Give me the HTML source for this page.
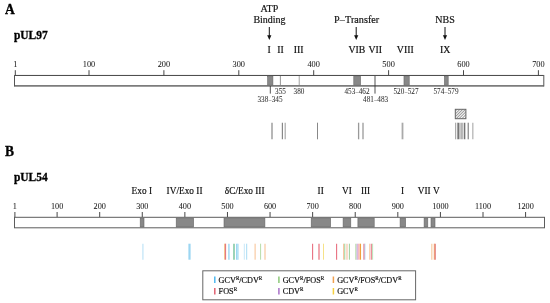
<!DOCTYPE html>
<html><head><meta charset="utf-8"><title>pUL97 and pUL54 mutation map</title>
<style>html,body{margin:0;padding:0;background:#fff;}body{width:550px;height:303px;overflow:hidden;}svg{display:block;filter:blur(0.3px);}</style>
</head><body>
<svg width="550" height="303" viewBox="0 0 550 303">
<rect width="550" height="303" fill="#fff"/>
<defs><pattern id="hatch" patternUnits="userSpaceOnUse" width="2" height="2" patternTransform="rotate(45)"><rect width="2" height="2" fill="#fff"/><rect width="1" height="2" fill="#999"/></pattern>
</defs>
<g font-family='"Liberation Serif", "DejaVu Serif", serif'>
<text transform="translate(4.9,14.1) scale(1,1.12)" font-size="13.5" font-weight="bold" fill="#000" stroke="#000" stroke-width="0.3">A</text>
<text transform="translate(13.9,39.3) scale(1,1.1)" font-size="11.5" font-weight="bold" fill="#000" stroke="#000" stroke-width="0.3">pUL97</text>
<text x="269.40" y="12.00" font-size="10" text-anchor="middle" font-weight="normal" fill="#111" stroke="#111" stroke-width="0.18" >ATP</text>
<text x="269.50" y="22.90" font-size="10" text-anchor="middle" font-weight="normal" fill="#111" stroke="#111" stroke-width="0.18" >Binding</text>
<text x="356.60" y="23.20" font-size="10.2" text-anchor="middle" font-weight="normal" fill="#111" stroke="#111" stroke-width="0.18" >P<tspan dx="0.2">&#8211;</tspan><tspan dx="0.2">Transfer</tspan></text>
<text x="445.00" y="23.20" font-size="10" text-anchor="middle" font-weight="normal" fill="#111" stroke="#111" stroke-width="0.18" >NBS</text>
<line x1="269.30" y1="27.00" x2="269.30" y2="36.00" stroke="#111" stroke-width="1.0"/>
<path d="M267.20,35.20 L271.40,35.20 L269.30,40.00 Z" fill="#111"/>
<line x1="356.20" y1="27.00" x2="356.20" y2="36.00" stroke="#111" stroke-width="1.0"/>
<path d="M354.10,35.20 L358.30,35.20 L356.20,40.00 Z" fill="#111"/>
<line x1="445.00" y1="27.00" x2="445.00" y2="36.00" stroke="#111" stroke-width="1.0"/>
<path d="M442.90,35.20 L447.10,35.20 L445.00,40.00 Z" fill="#111"/>
<text x="269.20" y="53.00" font-size="9.8" text-anchor="middle" font-weight="normal" fill="#111" stroke="#111" stroke-width="0.18" >I</text>
<text x="280.40" y="53.00" font-size="9.8" text-anchor="middle" font-weight="normal" fill="#111" stroke="#111" stroke-width="0.18" >II</text>
<text x="298.70" y="53.00" font-size="9.8" text-anchor="middle" font-weight="normal" fill="#111" stroke="#111" stroke-width="0.18" >III</text>
<text x="356.90" y="53.00" font-size="9.8" text-anchor="middle" font-weight="normal" fill="#111" stroke="#111" stroke-width="0.18" >VIB</text>
<text x="375.20" y="53.00" font-size="9.8" text-anchor="middle" font-weight="normal" fill="#111" stroke="#111" stroke-width="0.18" >VII</text>
<text x="405.30" y="53.00" font-size="9.8" text-anchor="middle" font-weight="normal" fill="#111" stroke="#111" stroke-width="0.18" >VIII</text>
<text x="445.10" y="53.00" font-size="9.8" text-anchor="middle" font-weight="normal" fill="#111" stroke="#111" stroke-width="0.18" >IX</text>
<line x1="15.30" y1="70.20" x2="15.30" y2="75.50" stroke="#484848" stroke-width="1.0"/>
<text x="15.30" y="67.30" font-size="8.3" text-anchor="middle" font-weight="normal" fill="#1a1a1a" stroke="#1a1a1a" stroke-width="0.05" >1</text>
<line x1="89.00" y1="70.20" x2="89.00" y2="75.50" stroke="#484848" stroke-width="1.0"/>
<text x="89.00" y="67.30" font-size="8.3" text-anchor="middle" font-weight="normal" fill="#1a1a1a" stroke="#1a1a1a" stroke-width="0.05" >100</text>
<line x1="163.90" y1="70.20" x2="163.90" y2="75.50" stroke="#484848" stroke-width="1.0"/>
<text x="163.90" y="67.30" font-size="8.3" text-anchor="middle" font-weight="normal" fill="#1a1a1a" stroke="#1a1a1a" stroke-width="0.05" >200</text>
<line x1="238.80" y1="70.20" x2="238.80" y2="75.50" stroke="#484848" stroke-width="1.0"/>
<text x="238.80" y="67.30" font-size="8.3" text-anchor="middle" font-weight="normal" fill="#1a1a1a" stroke="#1a1a1a" stroke-width="0.05" >300</text>
<line x1="313.70" y1="70.20" x2="313.70" y2="75.50" stroke="#484848" stroke-width="1.0"/>
<text x="313.70" y="67.30" font-size="8.3" text-anchor="middle" font-weight="normal" fill="#1a1a1a" stroke="#1a1a1a" stroke-width="0.05" >400</text>
<line x1="388.60" y1="70.20" x2="388.60" y2="75.50" stroke="#484848" stroke-width="1.0"/>
<text x="388.60" y="67.30" font-size="8.3" text-anchor="middle" font-weight="normal" fill="#1a1a1a" stroke="#1a1a1a" stroke-width="0.05" >500</text>
<line x1="463.50" y1="70.20" x2="463.50" y2="75.50" stroke="#484848" stroke-width="1.0"/>
<text x="463.50" y="67.30" font-size="8.3" text-anchor="middle" font-weight="normal" fill="#1a1a1a" stroke="#1a1a1a" stroke-width="0.05" >600</text>
<line x1="538.40" y1="70.20" x2="538.40" y2="75.50" stroke="#484848" stroke-width="1.0"/>
<text x="538.40" y="67.30" font-size="8.3" text-anchor="middle" font-weight="normal" fill="#1a1a1a" stroke="#1a1a1a" stroke-width="0.05" >700</text>
<line x1="14.50" y1="75.45" x2="543.80" y2="75.45" stroke="#444" stroke-width="1.0"/>
<line x1="14.50" y1="85.85" x2="543.80" y2="85.85" stroke="#7c7c7c" stroke-width="1.8"/>
<line x1="14.50" y1="75.00" x2="14.50" y2="86.50" stroke="#555" stroke-width="1.0"/>
<line x1="543.80" y1="75.00" x2="543.80" y2="86.50" stroke="#555" stroke-width="1.0"/>
<line x1="280.39" y1="76.00" x2="280.39" y2="85.20" stroke="#888" stroke-width="0.9"/>
<line x1="299.22" y1="76.00" x2="299.22" y2="85.20" stroke="#999" stroke-width="0.9"/>
<rect x="267.66" y="76.20" width="5.24" height="9.00" fill="#888" stroke="#666" stroke-width="0.6"/>
<rect x="353.80" y="76.20" width="6.74" height="9.00" fill="#888" stroke="#666" stroke-width="0.6"/>
<rect x="403.98" y="76.20" width="5.24" height="9.00" fill="#888" stroke="#666" stroke-width="0.6"/>
<rect x="444.43" y="76.20" width="3.75" height="9.00" fill="#888" stroke="#666" stroke-width="0.6"/>
<line x1="375.00" y1="76.00" x2="375.00" y2="93.60" stroke="#333" stroke-width="0.85"/>
<line x1="270.30" y1="86.00" x2="270.30" y2="93.60" stroke="#333" stroke-width="0.85"/>
<text x="280.50" y="93.80" font-size="7.2" text-anchor="middle" font-weight="normal" fill="#333" stroke="#333" stroke-width="0.06" >355</text>
<text x="299.00" y="93.80" font-size="7.2" text-anchor="middle" font-weight="normal" fill="#333" stroke="#333" stroke-width="0.06" >380</text>
<text x="357.00" y="94.00" font-size="7.2" text-anchor="middle" font-weight="normal" fill="#333" stroke="#333" stroke-width="0.06" >453<tspan font-size="5.4" dx="0.4" dy="-0.4">&#8211;</tspan><tspan dx="0.4" dy="0.4">462</tspan></text>
<text x="406.00" y="94.00" font-size="7.2" text-anchor="middle" font-weight="normal" fill="#333" stroke="#333" stroke-width="0.06" >520<tspan font-size="5.4" dx="0.4" dy="-0.4">&#8211;</tspan><tspan dx="0.4" dy="0.4">527</tspan></text>
<text x="446.00" y="94.00" font-size="7.2" text-anchor="middle" font-weight="normal" fill="#333" stroke="#333" stroke-width="0.06" >574<tspan font-size="5.4" dx="0.4" dy="-0.4">&#8211;</tspan><tspan dx="0.4" dy="0.4">579</tspan></text>
<text x="270.00" y="102.00" font-size="7.2" text-anchor="middle" font-weight="normal" fill="#333" stroke="#333" stroke-width="0.06" >338<tspan font-size="5.4" dx="0.4" dy="-0.4">&#8211;</tspan><tspan dx="0.4" dy="0.4">345</tspan></text>
<text x="375.60" y="102.00" font-size="7.2" text-anchor="middle" font-weight="normal" fill="#333" stroke="#333" stroke-width="0.06" >481<tspan font-size="5.4" dx="0.4" dy="-0.4">&#8211;</tspan><tspan dx="0.4" dy="0.4">483</tspan></text>
<line x1="272.00" y1="122.70" x2="272.00" y2="139.30" stroke="#999" stroke-width="1.4"/>
<line x1="282.40" y1="122.70" x2="282.40" y2="139.30" stroke="#888" stroke-width="1.2"/>
<line x1="285.20" y1="122.70" x2="285.20" y2="139.30" stroke="#aaa" stroke-width="1.2"/>
<line x1="317.50" y1="122.70" x2="317.50" y2="139.30" stroke="#888" stroke-width="1.0"/>
<line x1="358.60" y1="122.70" x2="358.60" y2="139.30" stroke="#999" stroke-width="1.3"/>
<line x1="363.00" y1="122.70" x2="363.00" y2="139.30" stroke="#9a9a9a" stroke-width="1.3"/>
<line x1="402.50" y1="122.70" x2="402.50" y2="139.30" stroke="#aaa" stroke-width="1.8"/>
<line x1="455.70" y1="122.70" x2="455.70" y2="139.30" stroke="#999" stroke-width="1.0"/>
<line x1="457.50" y1="122.70" x2="457.50" y2="139.30" stroke="#999" stroke-width="0.9"/>
<line x1="458.80" y1="122.70" x2="458.80" y2="139.30" stroke="#4a4a4a" stroke-width="1.1"/>
<line x1="461.10" y1="122.70" x2="461.10" y2="139.30" stroke="#8a8a8a" stroke-width="1.1"/>
<line x1="462.80" y1="122.70" x2="462.80" y2="139.30" stroke="#aaa" stroke-width="1.2"/>
<line x1="464.70" y1="122.70" x2="464.70" y2="139.30" stroke="#666" stroke-width="1.2"/>
<line x1="468.20" y1="122.70" x2="468.20" y2="139.30" stroke="#6a6a6a" stroke-width="1.0"/>
<line x1="472.80" y1="122.70" x2="472.80" y2="139.30" stroke="#bbb" stroke-width="1.4"/>
<rect x="455.30" y="109.30" width="10.60" height="9.40" fill="url(#hatch)" stroke="#666" stroke-width="1"/>
<text transform="translate(4.9,156.3) scale(1,1.12)" font-size="13.5" font-weight="bold" fill="#000" stroke="#000" stroke-width="0.3">B</text>
<text transform="translate(13.9,181.4) scale(1,1.08)" font-size="11.5" font-weight="bold" fill="#000" stroke="#000" stroke-width="0.3">pUL54</text>
<text x="141.80" y="194.30" font-size="9.3" text-anchor="middle" font-weight="normal" fill="#111" stroke="#111" stroke-width="0.18" >Exo I</text>
<text x="184.55" y="194.30" font-size="9.3" text-anchor="middle" font-weight="normal" fill="#111" stroke="#111" stroke-width="0.18" >IV/Exo II</text>
<text x="244.70" y="194.30" font-size="9.3" text-anchor="middle" font-weight="normal" fill="#111" stroke="#111" stroke-width="0.18" >&#948;C/Exo III</text>
<text x="320.70" y="194.30" font-size="9.3" text-anchor="middle" font-weight="normal" fill="#111" stroke="#111" stroke-width="0.18" >II</text>
<text x="346.95" y="194.30" font-size="9.3" text-anchor="middle" font-weight="normal" fill="#111" stroke="#111" stroke-width="0.18" >VI</text>
<text x="365.55" y="194.30" font-size="9.3" text-anchor="middle" font-weight="normal" fill="#111" stroke="#111" stroke-width="0.18" >III</text>
<text x="402.50" y="194.30" font-size="9.3" text-anchor="middle" font-weight="normal" fill="#111" stroke="#111" stroke-width="0.18" >I</text>
<text x="424.25" y="194.30" font-size="9.3" text-anchor="middle" font-weight="normal" fill="#111" stroke="#111" stroke-width="0.18" >VII</text>
<text x="436.35" y="194.30" font-size="9.3" text-anchor="middle" font-weight="normal" fill="#111" stroke="#111" stroke-width="0.18" >V</text>
<line x1="14.90" y1="212.00" x2="14.90" y2="217.30" stroke="#484848" stroke-width="1.0"/>
<text x="14.90" y="209.20" font-size="8.2" text-anchor="middle" font-weight="normal" fill="#1a1a1a" stroke="#1a1a1a" stroke-width="0.05" >1</text>
<line x1="57.10" y1="212.00" x2="57.10" y2="217.30" stroke="#484848" stroke-width="1.0"/>
<text x="57.10" y="209.20" font-size="8.2" text-anchor="middle" font-weight="normal" fill="#1a1a1a" stroke="#1a1a1a" stroke-width="0.05" >100</text>
<line x1="99.69" y1="212.00" x2="99.69" y2="217.30" stroke="#484848" stroke-width="1.0"/>
<text x="99.69" y="209.20" font-size="8.2" text-anchor="middle" font-weight="normal" fill="#1a1a1a" stroke="#1a1a1a" stroke-width="0.05" >200</text>
<line x1="142.28" y1="212.00" x2="142.28" y2="217.30" stroke="#484848" stroke-width="1.0"/>
<text x="142.28" y="209.20" font-size="8.2" text-anchor="middle" font-weight="normal" fill="#1a1a1a" stroke="#1a1a1a" stroke-width="0.05" >300</text>
<line x1="184.87" y1="212.00" x2="184.87" y2="217.30" stroke="#484848" stroke-width="1.0"/>
<text x="184.87" y="209.20" font-size="8.2" text-anchor="middle" font-weight="normal" fill="#1a1a1a" stroke="#1a1a1a" stroke-width="0.05" >400</text>
<line x1="227.46" y1="212.00" x2="227.46" y2="217.30" stroke="#484848" stroke-width="1.0"/>
<text x="227.46" y="209.20" font-size="8.2" text-anchor="middle" font-weight="normal" fill="#1a1a1a" stroke="#1a1a1a" stroke-width="0.05" >500</text>
<line x1="270.05" y1="212.00" x2="270.05" y2="217.30" stroke="#484848" stroke-width="1.0"/>
<text x="270.05" y="209.20" font-size="8.2" text-anchor="middle" font-weight="normal" fill="#1a1a1a" stroke="#1a1a1a" stroke-width="0.05" >600</text>
<line x1="312.64" y1="212.00" x2="312.64" y2="217.30" stroke="#484848" stroke-width="1.0"/>
<text x="312.64" y="209.20" font-size="8.2" text-anchor="middle" font-weight="normal" fill="#1a1a1a" stroke="#1a1a1a" stroke-width="0.05" >700</text>
<line x1="355.23" y1="212.00" x2="355.23" y2="217.30" stroke="#484848" stroke-width="1.0"/>
<text x="355.23" y="209.20" font-size="8.2" text-anchor="middle" font-weight="normal" fill="#1a1a1a" stroke="#1a1a1a" stroke-width="0.05" >800</text>
<line x1="397.82" y1="212.00" x2="397.82" y2="217.30" stroke="#484848" stroke-width="1.0"/>
<text x="397.82" y="209.20" font-size="8.2" text-anchor="middle" font-weight="normal" fill="#1a1a1a" stroke="#1a1a1a" stroke-width="0.05" >900</text>
<line x1="440.41" y1="212.00" x2="440.41" y2="217.30" stroke="#484848" stroke-width="1.0"/>
<text x="440.41" y="209.20" font-size="8.2" text-anchor="middle" font-weight="normal" fill="#1a1a1a" stroke="#1a1a1a" stroke-width="0.05" >1000</text>
<line x1="483.00" y1="212.00" x2="483.00" y2="217.30" stroke="#484848" stroke-width="1.0"/>
<text x="483.00" y="209.20" font-size="8.2" text-anchor="middle" font-weight="normal" fill="#1a1a1a" stroke="#1a1a1a" stroke-width="0.05" >1100</text>
<line x1="525.59" y1="212.00" x2="525.59" y2="217.30" stroke="#484848" stroke-width="1.0"/>
<text x="525.59" y="209.20" font-size="8.2" text-anchor="middle" font-weight="normal" fill="#1a1a1a" stroke="#1a1a1a" stroke-width="0.05" >1200</text>
<rect x="14.50" y="217.30" width="530.00" height="10.50" fill="#fff" stroke="#5c5c5c" stroke-width="1"/>
<rect x="140.20" y="218.10" width="3.80" height="8.90" fill="#888" stroke="#666" stroke-width="0.6"/>
<rect x="176.20" y="218.10" width="17.40" height="8.90" fill="#888" stroke="#666" stroke-width="0.6"/>
<rect x="224.00" y="218.10" width="40.90" height="8.90" fill="#888" stroke="#666" stroke-width="0.6"/>
<rect x="311.20" y="218.10" width="19.40" height="8.90" fill="#888" stroke="#666" stroke-width="0.6"/>
<rect x="343.10" y="218.10" width="7.70" height="8.90" fill="#888" stroke="#666" stroke-width="0.6"/>
<rect x="357.90" y="218.10" width="16.30" height="8.90" fill="#888" stroke="#666" stroke-width="0.6"/>
<rect x="400.10" y="218.10" width="5.50" height="8.90" fill="#888" stroke="#666" stroke-width="0.6"/>
<rect x="424.10" y="218.10" width="3.70" height="8.90" fill="#888" stroke="#666" stroke-width="0.6"/>
<rect x="431.00" y="218.10" width="4.00" height="8.90" fill="#888" stroke="#666" stroke-width="0.6"/>
<line x1="142.90" y1="243.70" x2="142.90" y2="259.70" stroke="#c8e8f8" stroke-width="1.4"/>
<line x1="189.50" y1="243.70" x2="189.50" y2="259.70" stroke="#9cd6f2" stroke-width="2.2"/>
<line x1="224.80" y1="243.70" x2="224.80" y2="259.70" stroke="#f0a050" stroke-width="0.9"/>
<line x1="225.60" y1="243.70" x2="225.60" y2="259.70" stroke="#e06070" stroke-width="0.9"/>
<line x1="228.90" y1="243.70" x2="228.90" y2="259.70" stroke="#a8dcf4" stroke-width="1.6"/>
<line x1="234.00" y1="243.70" x2="234.00" y2="259.70" stroke="#84c8a4" stroke-width="1.6"/>
<line x1="236.80" y1="243.70" x2="236.80" y2="259.70" stroke="#90d4f0" stroke-width="1.4"/>
<line x1="238.00" y1="243.70" x2="238.00" y2="259.70" stroke="#a8dcf4" stroke-width="1.2"/>
<line x1="244.30" y1="243.70" x2="244.30" y2="259.70" stroke="#c8e8f8" stroke-width="1.0"/>
<line x1="246.70" y1="243.70" x2="246.70" y2="259.70" stroke="#a8dcf4" stroke-width="1.0"/>
<line x1="255.10" y1="243.70" x2="255.10" y2="259.70" stroke="#f8c090" stroke-width="1.0"/>
<line x1="260.60" y1="243.70" x2="260.60" y2="259.70" stroke="#b8dca8" stroke-width="1.0"/>
<line x1="265.00" y1="243.70" x2="265.00" y2="259.70" stroke="#f8c8a0" stroke-width="1.2"/>
<line x1="312.60" y1="243.70" x2="312.60" y2="259.70" stroke="#e87080" stroke-width="1.1"/>
<line x1="319.00" y1="243.70" x2="319.00" y2="259.70" stroke="#f0a0a8" stroke-width="1.8"/>
<line x1="323.50" y1="243.70" x2="323.50" y2="259.70" stroke="#f6e288" stroke-width="1.0"/>
<line x1="336.60" y1="243.70" x2="336.60" y2="259.70" stroke="#e87080" stroke-width="1.1"/>
<line x1="343.60" y1="243.70" x2="343.60" y2="259.70" stroke="#f8b890" stroke-width="0.9"/>
<line x1="344.60" y1="243.70" x2="344.60" y2="259.70" stroke="#a8d8a0" stroke-width="0.9"/>
<line x1="345.70" y1="243.70" x2="345.70" y2="259.70" stroke="#e0f0e0" stroke-width="0.9"/>
<line x1="347.00" y1="243.70" x2="347.00" y2="259.70" stroke="#f8c0a0" stroke-width="1.1"/>
<line x1="349.40" y1="243.70" x2="349.40" y2="259.70" stroke="#90c890" stroke-width="0.9"/>
<line x1="355.90" y1="243.70" x2="355.90" y2="259.70" stroke="#b0d8a0" stroke-width="1.1"/>
<line x1="357.20" y1="243.70" x2="357.20" y2="259.70" stroke="#c0a0e0" stroke-width="1.1"/>
<line x1="358.70" y1="243.70" x2="358.70" y2="259.70" stroke="#f8b8c0" stroke-width="1.8"/>
<line x1="360.40" y1="243.70" x2="360.40" y2="259.70" stroke="#f0a040" stroke-width="1.3"/>
<line x1="363.60" y1="243.70" x2="363.60" y2="259.70" stroke="#f0a8b0" stroke-width="1.1"/>
<line x1="364.60" y1="243.70" x2="364.60" y2="259.70" stroke="#b890b8" stroke-width="0.7"/>
<line x1="365.50" y1="243.70" x2="365.50" y2="259.70" stroke="#d8f0f8" stroke-width="0.8"/>
<line x1="369.60" y1="243.70" x2="369.60" y2="259.70" stroke="#f8c8a0" stroke-width="0.9"/>
<line x1="371.30" y1="243.70" x2="371.30" y2="259.70" stroke="#e8848e" stroke-width="1.2"/>
<line x1="372.60" y1="243.70" x2="372.60" y2="259.70" stroke="#b0e0b0" stroke-width="0.9"/>
<line x1="431.80" y1="243.70" x2="431.80" y2="259.70" stroke="#f8d0a8" stroke-width="1.3"/>
<line x1="434.30" y1="243.70" x2="434.30" y2="259.70" stroke="#f0a060" stroke-width="1.0"/>
<line x1="435.20" y1="243.70" x2="435.20" y2="259.70" stroke="#e07070" stroke-width="1.1"/>
<rect x="202.80" y="270.80" width="212.80" height="29.00" fill="#fff" stroke="#666" stroke-width="1"/>
<line x1="214.80" y1="276.50" x2="214.80" y2="283.00" stroke="#4db8f0" stroke-width="1.5"/>
<text x="218.60" y="282.70" font-size="8.2" text-anchor="start" font-weight="normal" fill="#111" stroke="#111" stroke-width="0.18" >GCV<tspan font-size="5.1" dy="-3">R</tspan><tspan dy="3">/CDV</tspan><tspan font-size="5.1" dy="-3">R</tspan></text>
<line x1="278.90" y1="276.50" x2="278.90" y2="283.00" stroke="#8cc878" stroke-width="1.5"/>
<text x="282.70" y="282.70" font-size="8.2" text-anchor="start" font-weight="normal" fill="#111" stroke="#111" stroke-width="0.18" >GCV<tspan font-size="5.1" dy="-3">R</tspan><tspan dy="3">/FOS</tspan><tspan font-size="5.1" dy="-3">R</tspan></text>
<line x1="333.40" y1="276.50" x2="333.40" y2="283.00" stroke="#f0a050" stroke-width="1.5"/>
<text x="337.20" y="282.70" font-size="8.2" text-anchor="start" font-weight="normal" fill="#111" stroke="#111" stroke-width="0.18" >GCV<tspan font-size="5.1" dy="-3">R</tspan><tspan dy="3">/FOS</tspan><tspan font-size="5.1" dy="-3">R</tspan><tspan dy="3">/CDV</tspan><tspan font-size="5.1" dy="-3">R</tspan></text>
<line x1="214.80" y1="288.00" x2="214.80" y2="294.50" stroke="#e06070" stroke-width="1.5"/>
<text x="218.60" y="294.20" font-size="8.2" text-anchor="start" font-weight="normal" fill="#111" stroke="#111" stroke-width="0.18" >FOS<tspan font-size="5.1" dy="-3">R</tspan></text>
<line x1="278.90" y1="288.00" x2="278.90" y2="294.50" stroke="#a870c8" stroke-width="1.5"/>
<text x="282.70" y="294.20" font-size="8.2" text-anchor="start" font-weight="normal" fill="#111" stroke="#111" stroke-width="0.18" >CDV<tspan font-size="5.1" dy="-3">R</tspan></text>
<line x1="333.40" y1="288.00" x2="333.40" y2="294.50" stroke="#f5d040" stroke-width="1.5"/>
<text x="337.20" y="294.20" font-size="8.2" text-anchor="start" font-weight="normal" fill="#111" stroke="#111" stroke-width="0.18" >GCV<tspan font-size="5.1" dy="-3">R</tspan></text>
</g></svg>
</body></html>
